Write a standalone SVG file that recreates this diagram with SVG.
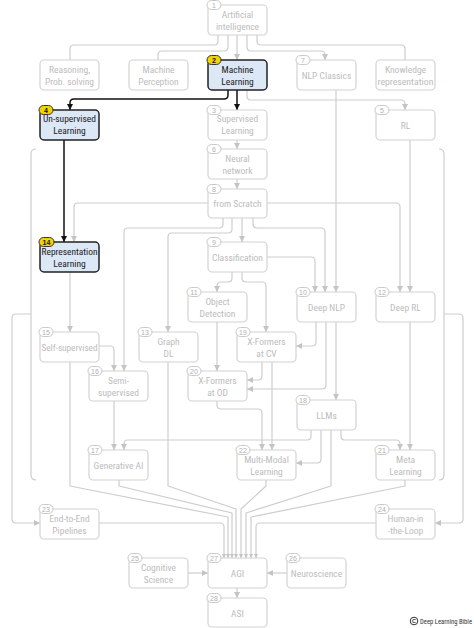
<svg xmlns="http://www.w3.org/2000/svg" width="474" height="628" viewBox="0 0 474 628">
<style>
.bx{fill:#fff;stroke:#d2d2d2;stroke-width:1.2}
.hb{fill:#dde8f6;stroke:#222;stroke-width:1.5}
.t{font-family:"Liberation Sans Narrow","Roboto Condensed","DejaVu Sans Condensed","Liberation Sans",sans-serif;font-size:9.5px;fill:#bcbcbc;text-anchor:middle}
.ht{fill:#1a1a1a}
.bg{fill:#fff;stroke:#c8c8c8;stroke-width:1}
.hg{fill:#f3d400;stroke:#333;stroke-width:1}
.bt{font-family:"Liberation Sans",Arial,sans-serif;font-size:7px;fill:#b0b0b0;text-anchor:middle}
.hbt{fill:#111;font-weight:bold}
.c{fill:none;stroke:#cdcdcd;stroke-width:1.2;stroke-linejoin:round}
.k{fill:none;stroke:#111;stroke-width:1.5;stroke-linejoin:round}
.a{marker-end:url(#ag)}
.ak{marker-end:url(#ab)}
.as{marker-end:url(#sm)}
</style>
<defs>
<marker id="ag" viewBox="0 0 6 6" refX="6" refY="3" markerWidth="6" markerHeight="6" orient="auto" markerUnits="userSpaceOnUse"><path d="M0,0 L6,3 L0,6 z" fill="#c4c4c4"/></marker>
<marker id="ab" viewBox="0 0 6 6" refX="6" refY="3" markerWidth="6" markerHeight="6" orient="auto" markerUnits="userSpaceOnUse"><path d="M0,0 L6,3 L0,6 z" fill="#111"/></marker>
<marker id="sm" viewBox="0 0 4 4" refX="4" refY="2" markerWidth="4" markerHeight="4" orient="auto" markerUnits="userSpaceOnUse"><path d="M0,0 L4,2 L0,4 z" fill="#c4c4c4"/></marker>
</defs>

<g id="connectors">
<path class="c" d="M218 35 V41 Q218 45 214 45 H74 Q70 45 70 49 V60"/>
<path class="c" d="M228 35 V47 Q228 51 224 51 H162 Q158 51 158 55 V60"/>
<path class="c a" d="M237 35 V60"/>
<path class="c a" d="M247 35 V47 Q247 51 251 51 H321 Q325 51 325 55 V60"/>
<path class="c" d="M257 35 V41 Q257 45 261 45 H401 Q405 45 405 49 V60"/>
<path class="k ak" d="M228 90 V95 Q228 99 224 99 H74 Q70 99 70 103 V110"/>
<path class="k ak" d="M237 90 V110"/>
<path class="c a" d="M247 90 V96 Q247 100 251 100 H401 Q405 100 405 104 V110"/>
<path class="c a" d="M336 90 V292"/>
<path class="c a" d="M410 140 V292"/>
<path class="k ak" d="M64 140 V242"/>
<path class="c a" d="M237 140 V149"/>
<path class="c a" d="M237 179 V189"/>
<path class="c a" d="M208 203 H78 Q74 203 74 207 V242"/>
<path class="c a" d="M267 203 H396 Q400 203 400 207 V292"/>
<path class="c a" d="M223 218 V224 Q223 228 219 228 H128 Q124 228 124 232 V371"/>
<path class="c a" d="M232 218 V229 Q232 233 228 233 H172 Q168 233 168 237 V332"/>
<path class="c a" d="M242 218 V242"/>
<path class="c a" d="M253 218 V224 Q253 228 257 228 H321 Q325 228 325 232 V292"/>
<path class="c a" d="M267 257 H311 Q315 257 315 261 V292"/>
<path class="c a" d="M232 272 V278 Q232 282 228 282 H221 Q217 282 217 286 V292"/>
<path class="c a" d="M242 272 V278 Q242 282 246 282 H262 Q266 282 266 286 V332"/>
<path class="c a" d="M70 272 V332"/>
<path class="c a" d="M99 346 H110 Q114 346 114 350 V371"/>
<path class="c a" d="M316 322 V342 Q316 346 312 346 H296"/>
<path class="c a" d="M326 322 V385 Q326 389 322 389 H247"/>
<path class="c a" d="M336 322 V400"/>
<path class="c a" d="M217 322 V371"/>
<path class="c a" d="M262 362 V376 Q262 380 258 380 H247"/>
<path class="c a" d="M272 362 V450"/>
<path class="c a" d="M217 401 V405 Q217 409 221 409 H258 Q262 409 262 413 V450"/>
<path class="c a" d="M114 401 V450"/>
<path class="c a" d="M311 430 V436 Q311 440 307 440 H128 Q124 440 124 444 V450"/>
<path class="c a" d="M321 430 V459 Q321 463 317 463 H296"/>
<path class="c a" d="M341 430 V436 Q341 440 345 440 H396 Q400 440 400 444 V450"/>
<path class="c a" d="M410 322 V450"/>
<path class="c" d="M36 149 Q31 149 31 154 V475 Q31 480 36 480"/>
<path class="c" d="M439 149 Q444 149 444 154 V475 Q444 480 439 480"/>
<path class="c a" d="M31 314 H16 Q12 314 12 318 V519 Q12 523 16 523 H40"/>
<path class="c a" d="M444 314 H459 Q463 314 463 318 V519 Q463 523 459 523 H435"/>
<path class="c as" d="M99 523 H220 Q224 523 224 527 V558"/>
<path class="c as" d="M70 362 V486 L228 517 V558"/>
<path class="c as" d="M119 480 V486 L232 513 V558"/>
<path class="c as" d="M168 362 V486 L236 509 V558"/>
<path class="c as" d="M266 480 V486 L241 509 V558"/>
<path class="c as" d="M331 430 V486 L246 513 V558"/>
<path class="c as" d="M405 480 V486 L251 517 V558"/>
<path class="c as" d="M376 523 H260 Q256 523 256 527 V558"/>
<path class="c a" d="M188 573 H208"/>
<path class="c a" d="M287 573 H267"/>
<path class="c a" d="M237 588 V598"/>
</g>

<g id="n1"><rect class="bx" x="208" y="5" width="59" height="30" rx="4"/><rect class="bg" x="207" y="0.5" width="14" height="9" rx="4.5"/><text class="bt" x="214" y="7.5">1</text><text class="t" x="237.5" y="18">Artificial</text><text class="t" x="237.5" y="30">intelligence</text></g>
<g id="reasoning"><rect class="bx" x="40" y="60" width="59" height="30" rx="4"/><text class="t" x="69.5" y="73">Reasoning,</text><text class="t" x="69.5" y="85">Prob. solving</text></g>
<g id="perception"><rect class="bx" x="129" y="60" width="59" height="30" rx="4"/><text class="t" x="158.5" y="73">Machine</text><text class="t" x="158.5" y="85">Perception</text></g>
<g id="n2"><rect class="hb" x="208" y="60" width="59" height="30" rx="4"/><rect class="hg" x="207" y="55.5" width="14" height="9" rx="4.5"/><text class="bt hbt" x="214" y="62.5">2</text><text class="t ht" x="237.5" y="73">Machine</text><text class="t ht" x="237.5" y="85">Learning</text></g>
<g id="n7"><rect class="bx" x="297" y="60" width="59" height="30" rx="4"/><rect class="bg" x="296" y="55.5" width="14" height="9" rx="4.5"/><text class="bt" x="303" y="62.5">7</text><text class="t" x="326.5" y="79">NLP Classics</text></g>
<g id="knowledge"><rect class="bx" x="376" y="60" width="59" height="30" rx="4"/><text class="t" x="405.5" y="73">Knowledge</text><text class="t" x="405.5" y="85" textLength="56" lengthAdjust="spacingAndGlyphs">representation</text></g>
<g id="n4"><rect class="hb" x="40" y="110" width="59" height="30" rx="4"/><rect class="hg" x="39" y="105.5" width="14" height="9" rx="4.5"/><text class="bt hbt" x="46" y="112.5">4</text><text class="t ht" x="69.5" y="122">Un-supervised</text><text class="t ht" x="69.5" y="134">Learning</text></g>
<g id="n3"><rect class="bx" x="208" y="110" width="59" height="30" rx="4"/><rect class="bg" x="207" y="105.5" width="14" height="9" rx="4.5"/><text class="bt" x="214" y="112.5">3</text><text class="t" x="237.5" y="122">Supervised</text><text class="t" x="237.5" y="134">Learning</text></g>
<g id="n5"><rect class="bx" x="376" y="110" width="59" height="30" rx="4"/><rect class="bg" x="375" y="105.5" width="14" height="9" rx="4.5"/><text class="bt" x="382" y="112.5">5</text><text class="t" x="405.5" y="129">RL</text></g>
<g id="n6"><rect class="bx" x="208" y="149" width="59" height="30" rx="4"/><rect class="bg" x="207" y="144.5" width="14" height="9" rx="4.5"/><text class="bt" x="214" y="151.5">6</text><text class="t" x="237.5" y="162">Neural</text><text class="t" x="237.5" y="174">network</text></g>
<g id="n8"><rect class="bx" x="208" y="189" width="59" height="29" rx="4"/><rect class="bg" x="207" y="184.5" width="14" height="9" rx="4.5"/><text class="bt" x="214" y="191.5">8</text><text class="t" x="237.5" y="207">from Scratch</text></g>
<g id="n9"><rect class="bx" x="208" y="242" width="59" height="30" rx="4"/><rect class="bg" x="207" y="237.5" width="14" height="9" rx="4.5"/><text class="bt" x="214" y="244.5">9</text><text class="t" x="237.5" y="261">Classification</text></g>
<g id="n14"><rect class="hb" x="40" y="242" width="59" height="30" rx="4"/><rect class="hg" x="39" y="237.5" width="15" height="9" rx="4.5"/><text class="bt hbt" x="46.5" y="244.5">14</text><text class="t ht" x="69.5" y="255" textLength="56" lengthAdjust="spacingAndGlyphs">Representation</text><text class="t ht" x="69.5" y="267">Learning</text></g>
<g id="n11"><rect class="bx" x="188" y="292" width="59" height="30" rx="4"/><rect class="bg" x="187" y="287.5" width="14" height="9" rx="4.5"/><text class="bt" x="194" y="294.5">11</text><text class="t" x="217.5" y="305">Object</text><text class="t" x="217.5" y="317">Detection</text></g>
<g id="n10"><rect class="bx" x="297" y="292" width="59" height="30" rx="4"/><rect class="bg" x="296" y="287.5" width="14" height="9" rx="4.5"/><text class="bt" x="303" y="294.5">10</text><text class="t" x="326.5" y="311">Deep NLP</text></g>
<g id="n12"><rect class="bx" x="376" y="292" width="59" height="30" rx="4"/><rect class="bg" x="375" y="287.5" width="14" height="9" rx="4.5"/><text class="bt" x="382" y="294.5">12</text><text class="t" x="405.5" y="311">Deep RL</text></g>
<g id="n15"><rect class="bx" x="40" y="332" width="59" height="30" rx="4"/><rect class="bg" x="39" y="327.5" width="14" height="9" rx="4.5"/><text class="bt" x="46" y="334.5">15</text><text class="t" x="69.5" y="351" textLength="56" lengthAdjust="spacingAndGlyphs">Self-supervised</text></g>
<g id="n13"><rect class="bx" x="139" y="332" width="59" height="30" rx="4"/><rect class="bg" x="138" y="327.5" width="14" height="9" rx="4.5"/><text class="bt" x="145" y="334.5">13</text><text class="t" x="168.5" y="345">Graph</text><text class="t" x="168.5" y="357">DL</text></g>
<g id="n19"><rect class="bx" x="237" y="332" width="59" height="30" rx="4"/><rect class="bg" x="236" y="327.5" width="14" height="9" rx="4.5"/><text class="bt" x="243" y="334.5">19</text><text class="t" x="266.5" y="345">X-Formers</text><text class="t" x="266.5" y="357">at CV</text></g>
<g id="n16"><rect class="bx" x="89" y="371" width="59" height="30" rx="4"/><rect class="bg" x="88" y="366.5" width="14" height="9" rx="4.5"/><text class="bt" x="95" y="373.5">16</text><text class="t" x="118.5" y="384">Semi-</text><text class="t" x="118.5" y="396">supervised</text></g>
<g id="n20"><rect class="bx" x="188" y="371" width="59" height="30" rx="4"/><rect class="bg" x="187" y="366.5" width="14" height="9" rx="4.5"/><text class="bt" x="194" y="373.5">20</text><text class="t" x="217.5" y="384">X-Formers</text><text class="t" x="217.5" y="396">at OD</text></g>
<g id="n18"><rect class="bx" x="297" y="400" width="59" height="30" rx="4"/><rect class="bg" x="296" y="395.5" width="14" height="9" rx="4.5"/><text class="bt" x="303" y="402.5">18</text><text class="t" x="326.5" y="419">LLMs</text></g>
<g id="n17"><rect class="bx" x="89" y="450" width="59" height="30" rx="4"/><rect class="bg" x="88" y="445.5" width="14" height="9" rx="4.5"/><text class="bt" x="95" y="452.5">17</text><text class="t" x="118.5" y="469">Generative AI</text></g>
<g id="n22"><rect class="bx" x="237" y="450" width="59" height="30" rx="4"/><rect class="bg" x="236" y="445.5" width="14" height="9" rx="4.5"/><text class="bt" x="243" y="452.5">22</text><text class="t" x="266.5" y="463">Multi-Modal</text><text class="t" x="266.5" y="475">Learning</text></g>
<g id="n21"><rect class="bx" x="376" y="450" width="59" height="30" rx="4"/><rect class="bg" x="375" y="445.5" width="14" height="9" rx="4.5"/><text class="bt" x="382" y="452.5">21</text><text class="t" x="405.5" y="463">Meta</text><text class="t" x="405.5" y="475">Learning</text></g>
<g id="n23"><rect class="bx" x="40" y="509" width="59" height="30" rx="4"/><rect class="bg" x="39" y="504.5" width="14" height="9" rx="4.5"/><text class="bt" x="46" y="511.5">23</text><text class="t" x="69.5" y="522">End-to-End</text><text class="t" x="69.5" y="534">Pipelines</text></g>
<g id="n24"><rect class="bx" x="376" y="509" width="59" height="30" rx="4"/><rect class="bg" x="375" y="504.5" width="14" height="9" rx="4.5"/><text class="bt" x="382" y="511.5">24</text><text class="t" x="405.5" y="522">Human-in</text><text class="t" x="405.5" y="534">-the-Loop</text></g>
<g id="n25"><rect class="bx" x="129" y="558" width="59" height="30" rx="4"/><rect class="bg" x="128" y="553.5" width="14" height="9" rx="4.5"/><text class="bt" x="135" y="560.5">25</text><text class="t" x="158.5" y="571">Cognitive</text><text class="t" x="158.5" y="583">Science</text></g>
<g id="n27"><rect class="bx" x="208" y="558" width="59" height="30" rx="4"/><rect class="bg" x="207" y="553.5" width="14" height="9" rx="4.5"/><text class="bt" x="214" y="560.5">27</text><text class="t" x="237.5" y="577">AGI</text></g>
<g id="n26"><rect class="bx" x="287" y="558" width="59" height="30" rx="4"/><rect class="bg" x="286" y="553.5" width="14" height="9" rx="4.5"/><text class="bt" x="293" y="560.5">26</text><text class="t" x="316.5" y="577">Neuroscience</text></g>
<g id="n28"><rect class="bx" x="208" y="598" width="59" height="29" rx="4"/><rect class="bg" x="207" y="593.5" width="14" height="9" rx="4.5"/><text class="bt" x="214" y="600.5">28</text><text class="t" x="237.5" y="617">ASI</text></g>

<g id="copyright"><circle cx="414" cy="621" r="3.8" fill="none" stroke="#333" stroke-width="1"/><text x="414" y="623.3" font-family="Liberation Sans,sans-serif" font-size="5.5" font-weight="bold" fill="#333" text-anchor="middle">C</text><text x="420" y="623.5" font-family="Roboto Condensed,Liberation Sans,sans-serif" font-size="7" fill="#333" textLength="52" lengthAdjust="spacingAndGlyphs">Deep Learning Bible</text></g>
</svg>
